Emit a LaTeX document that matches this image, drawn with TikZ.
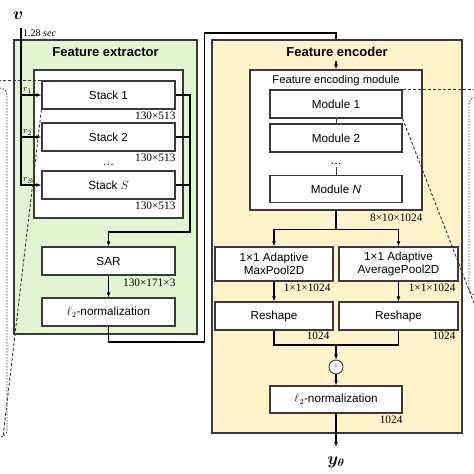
\documentclass[tikz,border=0pt]{standalone}
\usepackage{amsmath}
\usepackage{bm}
\usepackage{fontspec}
\setmainfont{Liberation Sans}
\newfontfamily\dimfont{Liberation Serif}
\usetikzlibrary{arrows.meta}
\definecolor{fegreen}{HTML}{E2F5D2}
\definecolor{encyellow}{HTML}{FFF3CC}
\definecolor{edgegray}{HTML}{3A3A3A}
\begin{document}
\begin{tikzpicture}[x=1pt,y=-1pt,
 box/.style={draw=edgegray, line width=1.2pt, fill=white, inner sep=0pt, font=\fontsize{11.7}{13.5}\selectfont, align=center},
 container/.style={draw=edgegray, line width=1.2pt, inner sep=0pt},
 conn/.style={draw=black, line width=1.1pt},
 arr/.style={conn, -{Latex[length=5pt,width=4pt]}},
 dimlab/.style={font=\dimfont\fontsize{11.3}{12}\selectfont, inner sep=0pt, anchor=north east},
 rlab/.style={font=\fontsize{9.5}{9.5}\selectfont, inner sep=0pt, anchor=south west},
 title/.style={font=\bfseries\fontsize{13}{15}\selectfont, inner sep=0pt},
 zoomline/.style={draw=black!80, line width=0.9pt, dash pattern=on 3pt off 2pt},
 panel/.style={draw=black!70, line width=0.9pt, dash pattern=on 1.5pt off 1.5pt, rounded corners=7pt}
]
\useasboundingbox (0,0) rectangle (474,474);

% ---------- Feature extractor ----------
\node[container, fill=fegreen, minimum width=183pt, minimum height=294pt] (fext) at (105.5,187) {};
\node[title] (fexttitle) at (105.5,52) {Feature extractor};
\node[container, fill=white, minimum width=149pt, minimum height=148pt] (stackc) at (108.5,144) {};

\node[box, minimum width=133pt, minimum height=28pt] (s1) at (108.5,95) {Stack 1};
\node[box, minimum width=133pt, minimum height=28pt] (s2) at (108.5,137) {Stack 2};
\node[box, minimum width=133pt, minimum height=28pt] (sS) at (108.5,185) {Stack $S$};
\node[font=\fontsize{11.5}{13}\selectfont, inner sep=0pt, anchor=base] (edots) at (108.5,165) {\dots};
\node[dimlab] (d1) at ([yshift=-2pt]s1.south east) {130×513};
\node[dimlab] (d2) at ([yshift=-2pt]s2.south east) {130×513};
\node[dimlab] (d3) at ([yshift=-2pt]sS.south east) {130×513};

\node[box, minimum width=133pt, minimum height=28pt] (sar) at (108.5,261) {SAR};
\node[box, minimum width=133pt, minimum height=28pt] (l2a) at (108.5,312) {$\ell_2$-normalization};
\node[dimlab] (d4) at ([yshift=-3pt]sar.south east) {130×171×3};

% input
\node[font=\fontsize{16}{16}\selectfont, inner sep=0pt, anchor=base] (vin) at (18,19.5) {$\bm{v}$};
\coordinate (vtop) at (21,28);
\node[font=\dimfont\fontsize{10}{10}\selectfont, anchor=west, inner sep=0pt] (dur) at (23,33) {1.28 \textit{sec}};
\coordinate (r1p) at (vtop |- s1.west);
\coordinate (r2p) at (vtop |- s2.west);
\coordinate (rSp) at (vtop |- sS.west);
\draw[arr] (vtop) |- (sS.west);
\draw[arr] (r1p) -- (s1.west);
\draw[arr] (r2p) -- (s2.west);
\node[rlab] (rl1) at ([xshift=2pt,yshift=1.5pt]r1p) {$r_1$};
\node[rlab] (rl2) at ([xshift=2pt,yshift=1.5pt]r2p) {$r_2$};
\node[rlab] (rlS) at ([xshift=2pt,yshift=1.5pt]rSp) {$r_S$};

% bus to SAR
\coordinate (busb) at (190,232);
\draw[arr] (s1.east) -| (busb) -| (sar.north);
\draw[conn] (s2.east) -- (s2.east -| busb);
\draw[conn] (sS.east) -- (sS.east -| busb);
\draw[arr] (sar.south) -- (l2a.north);

% ---------- Feature encoder ----------
\node[container, fill=encyellow, minimum width=250pt, minimum height=393pt] (fenc) at (337,236.5) {};
\node[title] (fenctitle) at (337,52) {Feature encoder};

% link extractor -> encoder
\coordinate (ja) at (204.5,342);
\coordinate (jb) at (204.5,33);
\coordinate (jc) at (336,33);
\draw[conn] (l2a.south) |- (ja) -- (jb) -- (jc) -- (jc |- fenc.north);

\node[container, fill=white, minimum width=172pt, minimum height=140pt] (fem) at (336,140) {};
\node[font=\fontsize{11.2}{13}\selectfont, inner sep=0pt] (femtitle) at (336,81) {Feature encoding module};
\coordinate (femin) at (336,61);
\draw[arr] (femin) -- (fem.north);

\node[box, minimum width=132pt, minimum height=28pt] (m1) at (336,104) {Module 1};
\node[box, minimum width=132pt, minimum height=28pt] (m2) at (336,138) {Module 2};
\node[box, minimum width=132pt, minimum height=27pt] (mN) at (336,189) {Module \textit{N}};
\node[font=\fontsize{11.5}{13}\selectfont, inner sep=0pt, anchor=base] (edots2) at (336,164) {\dots};
\draw[draw=edgegray, line width=0.8pt] (m1.south) -- (m2.north);
\draw[draw=edgegray, line width=0.8pt] ([yshift=-3pt]edots2.south) -- (mN.north);
\node[dimlab] (d5) at ([yshift=-3pt]fem.south east) {8×10×1024};

\node[box, minimum width=118pt, minimum height=34pt] (mp) at (274,264) {1×1 Adaptive\\MaxPool2D};
\node[box, minimum width=119pt, minimum height=34pt] (ap) at (398.5,264) {1×1 Adaptive\\AveragePool2D};
\draw[arr] (fem.south) -- ++(0,19) -| (mp.north);
\draw[arr] (fem.south) -- ++(0,19) -| (ap.north);
\node[dimlab] (d6) at ([xshift=-3pt,yshift=-2pt]mp.south east) {1×1×1024};
\node[dimlab] (d7) at ([xshift=-3pt,yshift=-2pt]ap.south east) {1×1×1024};

\node[box, minimum width=118pt, minimum height=28pt] (rs1) at (274,316) {Reshape};
\node[box, minimum width=119pt, minimum height=28pt] (rs2) at (398.5,316) {Reshape};
\draw[arr] (mp.south) -- (rs1.north);
\draw[arr] (ap.south) -- (rs2.north);
\node[dimlab] (d8) at ([xshift=-4pt,yshift=-1pt]rs1.south east) {1024};
\node[dimlab] (d9) at ([xshift=-3pt,yshift=-1pt]rs2.south east) {1024};

\node[circle, draw=edgegray, line width=0.9pt, fill=white, minimum size=14pt, inner sep=0pt, font=\fontsize{9}{9}\selectfont\color{black!45}] (plus) at (336,367) {+};
\coordinate (sumj) at (336,345);
\draw[conn] (rs1.south) |- (sumj);
\draw[conn] (rs2.south) |- (sumj);
\draw[arr] (sumj) -- (plus.north);

\node[box, minimum width=132pt, minimum height=27pt] (l2b) at (336,399.5) {$\ell_2$-normalization};
\draw[arr] (plus.south) -- (l2b.north);
\node[dimlab] (d10) at ([yshift=-2pt]l2b.south east) {1024};

\coordinate (yarr) at (336,447);
\draw[arr] (l2b.south) -- (yarr);
\node[font=\fontsize{16}{16}\selectfont, inner sep=0pt, anchor=base] (yout) at (336,464) {$\bm{y}_{\bm{\theta}}$};

% ---------- zoom indicators ----------
\coordinate (limg) at (0,81);
\coordinate (ldiag) at (3,437);
\draw[zoomline] (s1.north west) -- (s1.north west -| limg);
\draw[zoomline] (s1.south west) -- (ldiag);
\draw[panel] (0,88) -- (7,88) -- (7,437) -- (0,437);

\coordinate (rimg) at (474,90);
\coordinate (rdiag) at (474,303);
\draw[zoomline] (m1.north east) -- (m1.north east -| rimg);
\draw[zoomline] (m1.south east) -- (rdiag);
\draw[panel] (474,97) -- (469,97) -- (469,295) -- (474,295);
\end{tikzpicture}
\end{document}
